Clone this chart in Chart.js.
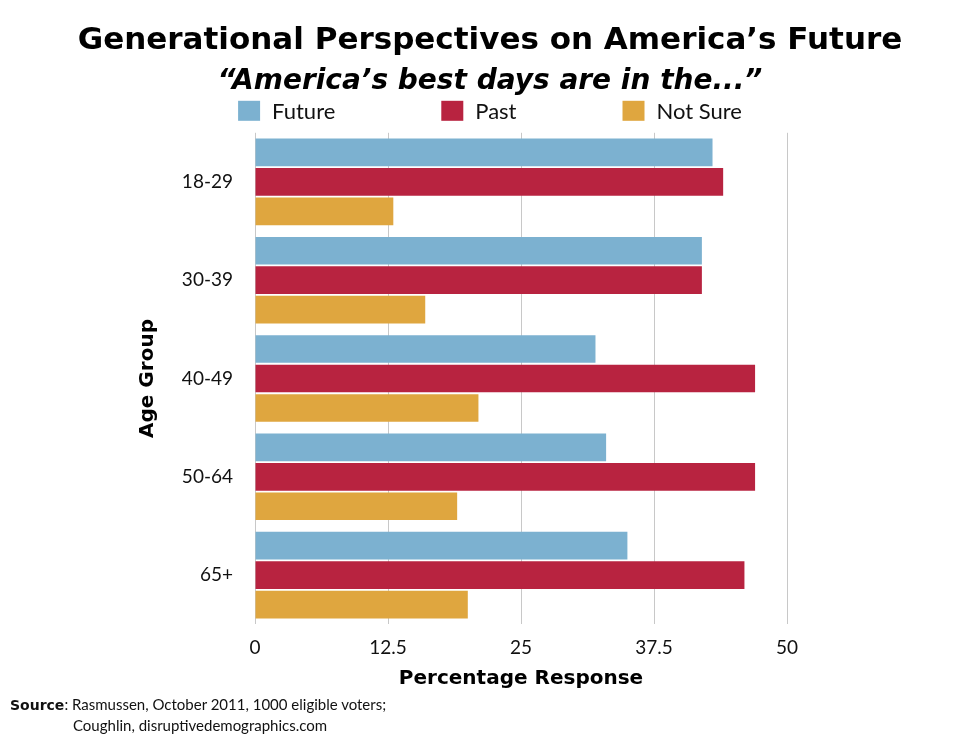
<!DOCTYPE html>
<html lang="en">
<head>
  <meta charset="UTF-8">
  <title>Generational Perspectives on America's Future</title>
  <script src="https://cdn.jsdelivr.net/npm/chart.js"></script>
  <style>
    body { margin: 0; background: #fff; }
    #wrap { position: relative; width: 980px; height: 735px; }
    #source { position: absolute; left: 10px; top: 694px; font-family: Lato, sans-serif; font-size: 15px; color: #111; line-height: 20px; }
    #source b { font-family: "DejaVu Sans", sans-serif; font-size: 14px; }
    #source .indent { padding-left: 63px; }
  </style>
</head>
<body>
  <div id="wrap">
    <canvas id="chart" width="980" height="735"></canvas>
    <div id="source">
      <div><b>Source</b>: Rasmussen, October 2011, 1000 eligible voters;</div>
      <div class="indent">Coughlin, disruptivedemographics.com</div>
    </div>
  </div>

  <script>
    const ageGroups = ['18-29', '30-39', '40-49', '50-64', '65+'];
    const future = [43, 42, 32, 33, 35];
    const past = [44, 42, 47, 47, 46];
    const notSure = [13, 16, 21, 19, 20];
    const xTicks = [0, 12.5, 25, 37.5, 50];

    const font = 'Lato, "Open Sans", sans-serif';
    const heavy = '"DejaVu Sans", sans-serif';

    // wide-spaced legend row drawn just above the plot area
    const spacedLegend = {
      id: 'spacedLegend',
      afterDraw(chart) {
        const ctx = chart.ctx;
        const box = 22, boxH = 20, gap = 12, spacing = 106;
        ctx.save();
        ctx.font = '22px ' + font;
        const items = chart.data.datasets.map(ds => ({
          label: ds.label, color: ds.backgroundColor,
          w: box + gap + ctx.measureText(ds.label).width
        }));
        const total = items.reduce((s, it) => s + it.w, 0) + spacing * (items.length - 1);
        let x = (chart.width - total) / 2;
        const y = chart.chartArea.top - 22;
        ctx.textBaseline = 'middle';
        items.forEach(it => {
          ctx.fillStyle = it.color;
          ctx.fillRect(x, y - boxH / 2, box, boxH);
          ctx.fillStyle = '#111';
          ctx.fillText(it.label, x + box + gap, y + 1);
          x += it.w + spacing;
        });
        ctx.restore();
      }
    };

    new Chart(document.getElementById('chart'), {
      type: 'bar',
      data: {
        labels: ageGroups,
        datasets: [
          { label: 'Future', data: future, backgroundColor: '#7cb1d0' },
          { label: 'Past', data: past, backgroundColor: '#b82340' },
          { label: 'Not Sure', data: notSure, backgroundColor: '#dfa63f' }
        ]
      },
      plugins: [spacedLegend],
      options: {
        indexAxis: 'y',
        responsive: false,
        animation: false,
        categoryPercentage: 0.9,
        barPercentage: 0.94,
        layout: { padding: { left: 0, right: 0, top: 0, bottom: 44 } },
        plugins: {
          title: {
            display: true,
            text: 'Generational Perspectives on America’s Future',
            color: '#000',
            font: { family: heavy, size: 31, weight: 'bold' },
            padding: { top: 22, bottom: 0 }
          },
          subtitle: {
            display: true,
            text: '“America’s best days are in the...”',
            color: '#000',
            font: { family: heavy, size: 28, weight: 'bold', style: 'italic' },
            padding: { top: 6, bottom: 34 }
          },
          legend: { display: false },
          tooltip: { enabled: false }
        },
        scales: {
          x: {
            min: 0,
            max: 50,
            afterBuildTicks: (scale) => {
              scale.ticks = xTicks.map(v => ({ value: v }));
            },
            grid: { color: '#c8c8c8', drawTicks: false },
            border: { display: false },
            ticks: {
              color: '#111',
              font: { family: font, size: 19 },
              padding: 12
            },
            title: {
              display: true,
              text: 'Percentage Response',
              color: '#000',
              font: { family: heavy, size: 20, weight: 'bold' },
              padding: { top: -4, bottom: 0 }
            }
          },
          y: {
            afterFit: (scale) => { scale.width = 255; },
            grid: { display: false },
            border: { display: false },
            ticks: {
              color: '#111',
              font: { family: font, size: 19 },
              padding: 14
            },
            title: {
              display: true,
              text: 'Age Group',
              color: '#000',
              font: { family: heavy, size: 20, weight: 'bold' },
              padding: { top: 136 }
            }
          },
          // empty right-hand axis that keeps the plot narrower than the titles
          spacer: {
            type: 'category',
            position: 'right',
            afterFit: (scale) => { scale.width = 193; },
            ticks: { display: false },
            grid: { display: false },
            border: { display: false }
          }
        }
      }
    });
  </script>
</body>
</html>
